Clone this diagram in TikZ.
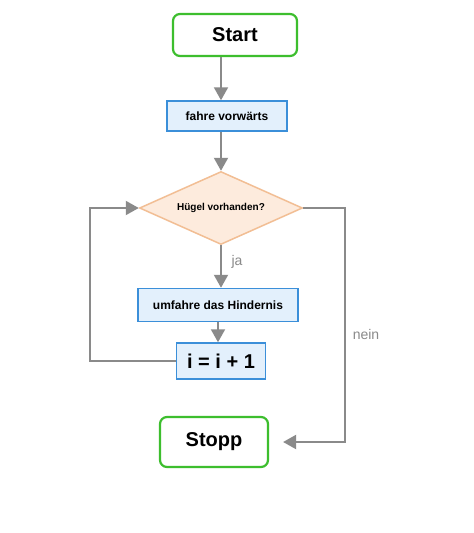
\documentclass[tikz,border=0pt]{standalone}
\usepackage{fontspec}
\setmainfont{Liberation Sans}
\usetikzlibrary{arrows.meta,shapes.geometric}
\definecolor{termgreen}{HTML}{3DBE2E}
\definecolor{stepblue}{HTML}{3B8FD9}
\definecolor{stepfill}{HTML}{E3F0FC}
\definecolor{askfill}{HTML}{FDEBDD}
\definecolor{askline}{HTML}{F2BE94}
\definecolor{flowgray}{HTML}{8A8A8A}
\tikzset{
  terminal/.style={draw=termgreen, line width=2.2pt, rounded corners=7pt, fill=white,
    font=\bfseries\fontsize{20}{24}\selectfont},
  action/.style={draw=stepblue, line width=1.5pt, fill=stepfill},
  question/.style={diamond, aspect=2.3, draw=askline, line width=1.5pt, fill=askfill, inner sep=0pt,
    minimum width=163pt, minimum height=73pt, font=\bfseries\fontsize{10}{12}\selectfont},
  flow/.style={draw=flowgray, line width=2pt,
    -{Triangle[width=14pt,length=13pt]}},
  remark/.style={text=flowgray, font=\fontsize{14}{16}\selectfont}
}
\begin{document}
\begin{tikzpicture}[x=1pt,y=-1pt]
  \useasboundingbox[fill=white] (0,0) rectangle (474,533);
  \node[terminal, minimum width=124pt, minimum height=42pt] (start) at (235,35) {Start};
  \node[action, minimum width=120pt, minimum height=30pt,
    font=\bfseries\fontsize{12}{14}\selectfont] (drive) at (227,116) {fahre vorwärts};
  \node[question] (hill) at (221,208) {Hügel vorhanden?};
  \node[action, minimum width=160pt, minimum height=33pt,
    font=\bfseries\fontsize{12}{14}\selectfont] (avoid) at (218,305) {umfahre das Hindernis};
  \node[action, minimum width=89pt, minimum height=36pt,
    font=\bfseries\fontsize{20}{24}\selectfont] (count) at (221,361) {i = i + 1};
  \node[terminal, minimum width=108pt, minimum height=50pt] (stop) at (214,442) {Stopp};
  \coordinate (loopcorner) at (90,361);
  \coordinate (nocorner) at (345,442);
  \node[remark] (yes) at (237,262) {ja};
  \node[remark] (no) at (366,334) {nein};
  \begin{scope}[flow]
    \draw (start.south -| hill.north) to (drive.north -| hill.north);
    \draw (drive.south -| hill.north) to (hill.north);
    \draw (hill.south) to (avoid.north -| hill.south);
    \draw (avoid.south) to (avoid.south |- count.north);
    \draw (count.west) -- (loopcorner) |- (hill.west);
    \draw[shorten >=14pt] (hill.east) -| (nocorner) -- (stop.east);
  \end{scope}
\end{tikzpicture}
\end{document}
